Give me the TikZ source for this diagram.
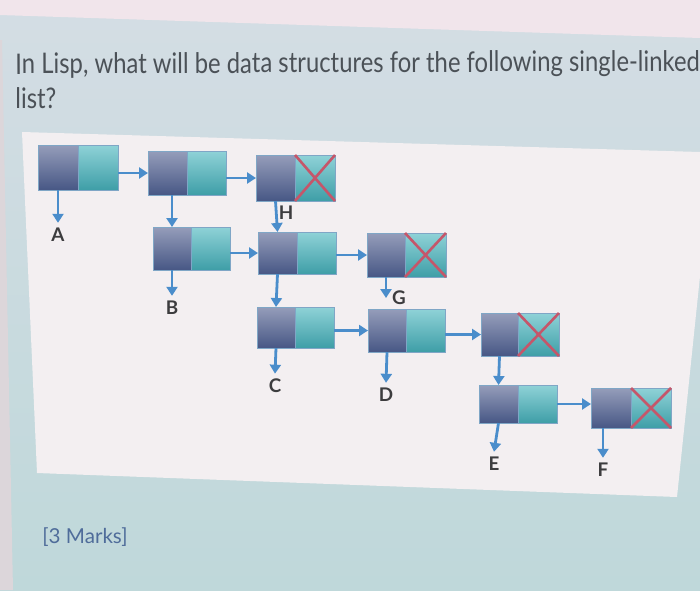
\documentclass[tikz,border=0pt]{standalone}
\usepackage{fontspec}
\setmainfont{Lato}
\usetikzlibrary{arrows.meta}
\definecolor{scrtop}{HTML}{D4DDE4}
\definecolor{scrbot}{HTML}{BFD8DA}
\definecolor{bezel}{HTML}{F1E5EB}
\definecolor{sidebez}{HTML}{DCD6DA}
\definecolor{panel}{HTML}{F3EFF1}
\definecolor{cartop}{HTML}{959DBA}
\definecolor{carbot}{HTML}{475785}
\definecolor{cdrtop}{HTML}{8FD2D7}
\definecolor{cdrbot}{HTML}{3E9EA7}
\definecolor{boxedge}{HTML}{7FA6C6}
\definecolor{nilred}{HTML}{C5566A}
\definecolor{arrowc}{HTML}{4A8DCB}
\definecolor{labelc}{HTML}{3C3C3E}
\definecolor{titlec}{HTML}{4B5157}
\definecolor{marksc}{HTML}{4F6C9A}
\tikzset{
  carbox/.style={draw=boxedge, line width=0.4pt, top color=cartop, bottom color=carbot, inner sep=0pt, outer sep=0pt, anchor=north west},
  cdrbox/.style={draw=boxedge, line width=0.4pt, top color=cdrtop, bottom color=cdrbot, inner sep=0pt, outer sep=0pt, anchor=north west},
  nilx/.style={draw=nilred, line width=1.3pt},
  arr/.style={draw=arrowc, line width=1.4pt, -{Triangle[length=4.5pt,width=5.5pt]}},
  lbl/.style={font=\fontsize{9.4}{11}\selectfont\bfseries, text=labelc, inner sep=2.5pt},
  titletext/.style={anchor=base west, inner sep=0pt, text=titlec, font=\fontsize{14.2}{17}\selectfont},
}
\newcommand\lcell[7]{%
  \node[carbox, minimum width=#4*0.5pt, minimum height=#6*0.5pt] (#1a) at (#2,#3) {};
  \node[cdrbox, minimum width=#5*0.5pt, minimum height=#6*0.5pt] (#1d) at (#1a.north east) {};
  \ifnum#7=1 \draw[nilx] (#1d.north west) -- (#1d.south east) (#1d.north east) -- (#1d.south west);\fi
}
\begin{document}
\begin{tikzpicture}[x=0.5pt,y=-0.5pt]
\useasboundingbox (0,0) rectangle (700,590);
\clip (0,0) rectangle (700,590);
% screen background
\shade[top color=scrtop, bottom color=scrbot] (0,0) rectangle (700,590);
\fill[bezel] (0,0) -- (700,0) -- (700,38) -- (0,15) -- cycle;
\fill[sidebez] (0,40) -- (2,40) -- (13,590) -- (0,590) -- cycle;
% white panel
\fill[panel] (22,132) -- (700,152) -- (700,276) -- (677,497) -- (37,473) -- cycle;
% title
\node[titletext, rotate=0.25] (title1) at (15,74)
  {\scalebox{0.84}[1]{In Lisp, what will be data structures for the following single-linked}};
\node[titletext] (title2) at (15,108) {\scalebox{0.84}[1]{list?}};
\node[anchor=base west, inner sep=0pt, text=marksc] (marks) at (42,543)
  {\fontsize{10.3}{12}\selectfont [3 Marks]};
% cells: name, x, y, car width, cdr width, height, nil
\lcell{c1}{38}{145}{40}{40}{45}{0}
\lcell{c2}{148}{151}{39}{39}{44}{0}
\lcell{c3}{256}{155}{39}{40}{46}{1}
\lcell{c4}{153}{227}{38}{39}{43}{0}
\lcell{c5}{258}{232}{39}{39}{42}{0}
\lcell{c6}{367}{233}{38}{41}{44}{1}
\lcell{c7}{257}{307}{38}{39}{41}{0}
\lcell{c8}{368}{309}{38}{39}{43}{0}
\lcell{c9}{481}{313}{37}{41}{43}{1}
\lcell{c10}{479}{385}{39}{39}{38}{0}
\lcell{c11}{591}{388}{40}{40}{40}{1}
% labels
\node[lbl] (A) at (58,235) {A};
\node[lbl] (B) at (172,308) {B};
\node[lbl] (C) at (275,386) {C};
\node[lbl] (D) at (386,395) {D};
\node[lbl] (E) at (494,464) {E};
\node[lbl] (F) at (603,470) {F};
\node[lbl] (H) at (286,213) {H};
\node[lbl] (G) at (399,298) {G};
\coordinate (gend) at (386,298);
% horizontal links
\draw[arr] (c1d.east |- c2a.west) -- (c2a.west);
\draw[arr] (c2d.east |- c3a.west) -- (c3a.west);
\draw[arr] (c4d.east |- c5a.west) -- (c5a.west);
\draw[arr] (c5d.east |- c6a.west) -- (c6a.west);
\draw[arr] (c7d.east |- c8a.west) -- (c8a.west);
\draw[arr] (c8d.east |- c9a.west) -- (c9a.west);
\draw[arr] (c10d.east) -- (c11a.west |- c10d.east);
% vertical links
\draw[arr] (c1a.south) -- (A.north);
\draw[arr] (c2a.south -| c4a.north) -- (c4a.north);
\draw[arr] (c3a.south) -- (c5a.north);
\draw[arr] (c4a.south) -- (B.north);
\draw[arr] (c5a.south) -- (c7a.north);
\draw[arr] (c6a.south) -- (gend);
\draw[arr] (c7a.south) -- (C.north);
\draw[arr] (c8a.south) -- (D.north);
\draw[arr] (c9a.south) -- (c10a.north);
\draw[arr] (c10a.south) -- (E.north);
\draw[arr] (c11a.south -| F.north) -- (F.north);
\end{tikzpicture}
\end{document}
